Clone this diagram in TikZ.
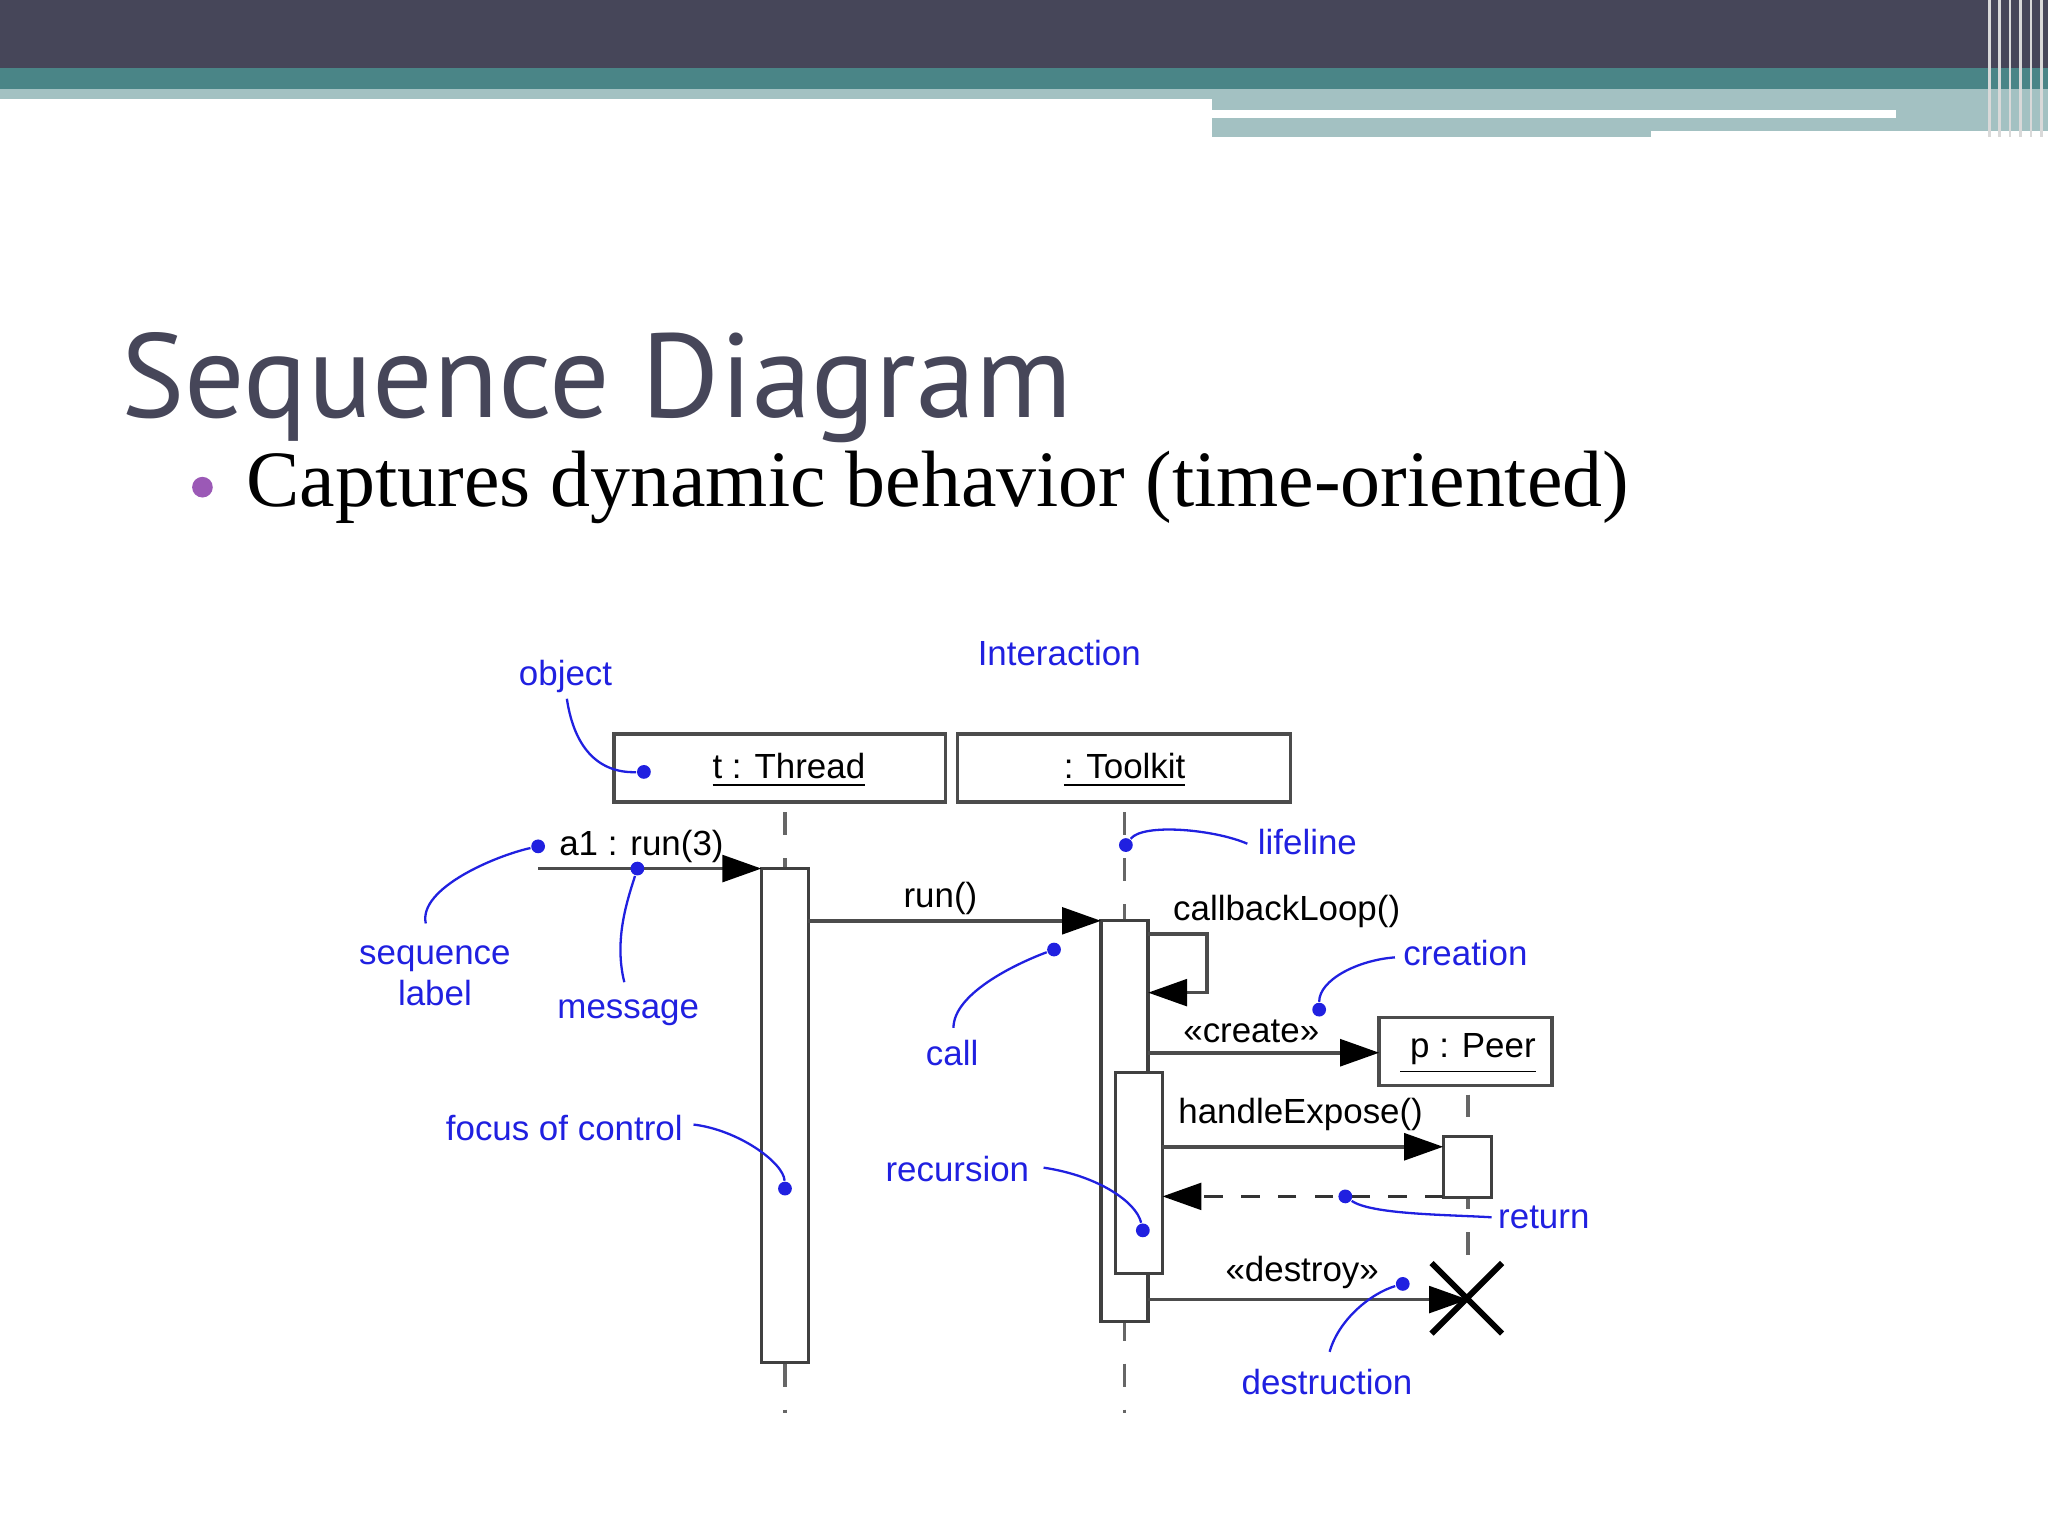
\documentclass[tikz,border=0pt]{standalone}
\usepackage{fontspec}
\setmainfont{Liberation Serif}
\newfontfamily\titlefont{PT Sans}
\newfontfamily\arialf{Liberation Sans}
\usetikzlibrary{arrows.meta}
\definecolor{dkband}{HTML}{464659}
\definecolor{teal}{HTML}{4A8587}
\definecolor{ltteal}{HTML}{A3C1C2}
\definecolor{anno}{HTML}{2020E0}
\definecolor{bul}{HTML}{9B59B6}
\begin{document}
\begin{tikzpicture}[x=0.01cm,y=-0.01cm,
  lbl/.style={font=\arialf\fontsize{7.6}{9}\selectfont,inner sep=1pt},
  alb/.style={font=\arialf\fontsize{7.6}{9}\selectfont,text=anno,inner sep=1pt},
  obj/.style={draw=black!70,line width=0.8pt,fill=white},
  act/.style={draw=black!75,line width=0.7pt,fill=white},
  life/.style={draw=black!60,line width=0.8pt,dash pattern=on 5pt off 5pt},
  msg/.style={draw=black!70,line width=0.8pt,-{Triangle[length=8.5pt,width=5.8pt,fill=black,color=black]}},
  ret/.style={draw=black!80,line width=0.8pt,dash pattern=on 4pt off 4pt,-{Triangle[length=8.5pt,width=5.8pt,fill=black,color=black]}},
  pin/.style={draw=anno,line width=0.5pt},
  dot/.style={fill=anno,circle,inner sep=0pt,minimum size=3pt}]
\useasboundingbox (0,0) rectangle (1568,1176);
% banner
\fill[dkband] (0,0) rectangle (1568,52);
\fill[teal] (0,52) rectangle (1568,68);
\fill[ltteal] (0,68) rectangle (928,76);
\fill[ltteal] (928,68) rectangle (1568,105);
\fill[white] (928,84) rectangle (1452,90);
\fill[white] (1264,100) rectangle (1568,106);
\foreach \x in {1522,1530,1538,1546,1554,1562}{\fill[white!70!gray] (\x,0) rectangle (\x+2,105);}
% title
\node[anchor=base west,inner sep=0,text=dkband,font=\titlefont\fontsize{26}{30}\selectfont] (title) at (92,320) {Sequence Diagram};
\node[anchor=base west,inner sep=0,font=\fontsize{17.4}{21}\selectfont] (bullet) at (188,388) {Captures dynamic behavior (time-oriented)};
\node[circle,fill=bul,inner sep=0,minimum size=4.5pt] (bdot) at (155,373) {};
% objects
\draw[obj] (470,562) rectangle (724,614);
\draw[obj] (733,562) rectangle (988,614);
\node[lbl] (thrl) at (604,590) {\underline{t : Thread}};
\node[lbl] (tkl) at (861,590) {\underline{: Toolkit}};
% lifelines
\draw[life] (601,622) -- (601,1082);
\draw[life] (861,622) -- (861,1082);
\draw[act] (583,665) rectangle (619,1043);
\draw[act] (843,705) rectangle (879,1012);
\draw[act] (854,821) rectangle (890,975);
% peer
\draw[obj] (1056,779) rectangle (1188,831);
\node[lbl] (peerl) at (1124,807) {\underline{ p : Peer}};
\draw[life] (1124,838) -- (1124,965);
\draw[act] (1105,870) rectangle (1142,917);
% messages
\coordinate (a1s) at (412,665);
\coordinate (a1e) at (583,665);
\draw[msg] (a1s) -- (a1e);
\node[lbl,anchor=base west] (a1l) at (424,655) {a1 : run(3)};
\coordinate (rs) at (619,705); \coordinate (re) at (843,705);
\draw[msg] (rs) -- (re);
\node[lbl] (runl) at (720,688) {run()};
\coordinate (cb1) at (879,715); \coordinate (cb2) at (879,760);
\draw[msg] (cb1) -- (924,715) -- (924,760) -- (cb2);
\node[lbl,anchor=base west] (cbl) at (894,705) {callbackLoop()};
\coordinate (cs) at (879,806); \coordinate (ce) at (1056,806);
\draw[msg] (cs) -- (ce);
\node[lbl] (crl) at (958,790) {«create»};
\coordinate (hs) at (890,878); \coordinate (he) at (1105,878);
\draw[msg] (hs) -- (he);
\node[lbl,anchor=base west] (hl) at (898,860) {handleExpose()};
\coordinate (rts) at (1105,916); \coordinate (rte) at (890,916);
\draw[ret] (rts) -- (rte);
\coordinate (ds) at (879,995); \coordinate (de) at (1124,995);
\draw[msg] (ds) -- (de);
\node[lbl] (dl) at (997,974) {«destroy»};
\draw[line width=1.3pt] (1096,967) -- (1150,1021) (1150,967) -- (1096,1021);
% annotations
\node[alb] (inter) at (811,500) {Interaction};
\node[alb] (objl) at (433,518) {object};
\node[dot] (d1) at (493,591) {};
\draw[pin] (434,535) .. controls (440,575) and (460,592) .. (d1);
\node[alb] (lifel) at (1001,645) {lifeline};
\node[dot] (d2) at (862,647) {};
\draw[pin] (d2) .. controls (875,630) and (930,635) .. (955,646);
\node[alb,align=center] (seql) at (333,747) {sequence\\label};
\node[dot] (d3) at (412,648) {};
\draw[pin] (326,707) .. controls (320,680) and (380,655) .. (d3);
\node[alb] (msgl) at (481,775) {message};
\node[dot] (d4) at (488,665) {};
\draw[pin] (478,752) .. controls (470,720) and (480,690) .. (d4);
\node[alb] (calll) at (729,806) {call};
\node[dot] (d5) at (807,727) {};
\draw[pin] (730,787) .. controls (730,760) and (780,737) .. (d5);
\node[alb] (crea) at (1122,730) {creation};
\node[dot] (d6) at (1010,773) {};
\draw[pin] (d6) .. controls (1010,750) and (1040,735) .. (1068,733);
\node[alb] (foc) at (432,864) {focus of control};
\node[dot] (d7) at (601,910) {};
\draw[pin] (531,861) .. controls (565,865) and (600,890) .. (d7);
\node[alb] (recl) at (733,895) {recursion};
\node[dot] (d8) at (875,942) {};
\draw[pin] (799,894) .. controls (840,900) and (870,920) .. (d8);
\node[alb] (retl) at (1182,932) {return};
\node[dot] (d9) at (1030,916) {};
\draw[pin] (d9) .. controls (1050,930) and (1110,930) .. (1142,932);
\node[alb] (destl) at (1016,1058) {destruction};
\node[dot] (d10) at (1074,983) {};
\draw[pin] (1018,1035) .. controls (1025,1010) and (1050,990) .. (d10);
\end{tikzpicture}
\end{document}
